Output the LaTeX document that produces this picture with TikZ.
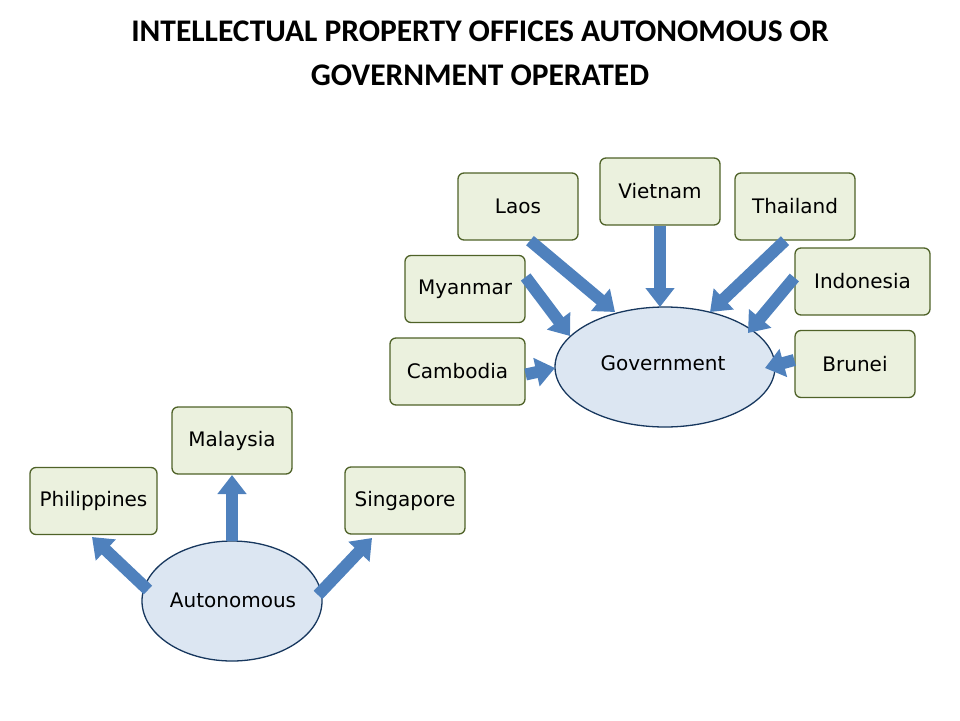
\documentclass[tikz,border=0pt]{standalone}
\usepackage{fontspec}
\setmainfont{DejaVu Sans}
\newfontfamily\titlefont{Carlito}
\usetikzlibrary{arrows.meta}
\definecolor{boxfill}{HTML}{EBF1DE}
\definecolor{boxdraw}{HTML}{4F6228}
\definecolor{ellfill}{HTML}{DCE6F2}
\definecolor{elldraw}{HTML}{17375E}
\definecolor{arr}{HTML}{4F81BD}
\begin{document}
\begin{tikzpicture}[x=1pt,y=-1pt,
  cbox/.style={draw=boxdraw,fill=boxfill,line width=1.3pt,rounded corners=6pt,minimum width=#1,minimum height=67pt,font=\fontsize{20}{24}\selectfont,inner sep=0pt},
  cbox/.default=120pt,
  lbl/.style={font=\fontsize{20}{24}\selectfont},
  barr/.style={line width=12pt,draw=arr,-{Triangle[width=28pt,length=19pt]}}]
\useasboundingbox (0,0) rectangle (960,720);
\node[font=\titlefont\bfseries\fontsize{31.5}{44}\selectfont,align=center] (t) at (480,53) {INTELLECTUAL PROPERTY OFFICES AUTONOMOUS OR\\GOVERNMENT OPERATED};
\node[cbox] (laos) at (518,206.5) {Laos};
\node[cbox] (viet) at (660,191.5) {Vietnam};
\node[cbox] (thai) at (795,206.5) {Thailand};
\node[cbox] (myan) at (465,289) {Myanmar};
\node[cbox=135pt] (indo) at (862.5,281.5) {Indonesia};
\node[cbox=135pt] (camb) at (457.5,371.5) {Cambodia};
\node[cbox] (brun) at (855,364) {Brunei};
\draw[draw=elldraw,fill=ellfill,line width=1.3pt] (665,367) ellipse [x radius=110,y radius=60];
\node[lbl] (gov) at (663,363) {Government};
\node[cbox] (mala) at (232,440.5) {Malaysia};
\node[cbox=127pt] (phil) at (93.5,501) {Philippines};
\node[cbox] (sing) at (405,500.5) {Singapore};
\draw[draw=elldraw,fill=ellfill,line width=1.3pt] (232,601) ellipse [x radius=90,y radius=60];
\node[lbl] (auto) at (233,600) {Autonomous};
\coordinate (g1) at (615,312);
\coordinate (g2) at (660,307);
\coordinate (g3) at (710,312);
\coordinate (g4) at (570,336);
\coordinate (g5) at (748,333);
\coordinate (g6) at (555,368);
\coordinate (g7) at (765,368);
\coordinate (a0) at (232,541);
\coordinate (a1) at (148,590);
\coordinate (a2) at (318,595);
\coordinate (m) at (232,475);
\coordinate (p) at (92,537);
\coordinate (s) at (372,538);
\draw[barr] ([xshift=12pt]laos.south) -- (g1);
\draw[barr] (viet.south) -- (g2);
\draw[barr] ([xshift=-10pt]thai.south) -- (g3);
\draw[barr] ([yshift=12pt]myan.east) -- (g4);
\draw[barr] ([yshift=4pt]indo.west) -- (g5);
\draw[barr] ([yshift=-3pt]camb.east) -- (g6);
\draw[barr] ([yshift=4pt]brun.west) -- (g7);
\draw[barr] (a0) -- (m);
\draw[barr] (a1) -- (p);
\draw[barr] (a2) -- (s);
\end{tikzpicture}
\end{document}
